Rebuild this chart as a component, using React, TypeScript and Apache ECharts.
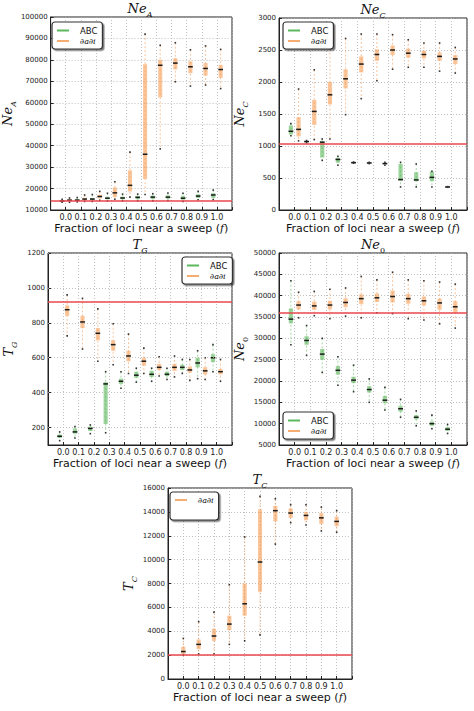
import React, { useRef, useEffect } from 'react'
import * as echarts from 'echarts'

const fractions = ['0.0', '0.1', '0.2', '0.3', '0.4', '0.5', '0.6', '0.7', '0.8', '0.9', '1.0']

// each box: [min, q1, median, q3, max]
const neA_ABC = [
  [13600, 13900, 14200, 14500, 15000],
  [13800, 14200, 14600, 15100, 15800],
  [14000, 14600, 15100, 15600, 17200],
  [14200, 15000, 15500, 16200, 17800],
  [14300, 15000, 15600, 16200, 17400],
  [14300, 15100, 15900, 16500, 17400],
  [14300, 15200, 16000, 16700, 17600],
  [14400, 15300, 16000, 16800, 17900],
  [14000, 14800, 15500, 16600, 17800],
  [14800, 15600, 16500, 17300, 18700],
  [14800, 15600, 17000, 17800, 19300],
]
const neA_dadi = [
  [13600, 14100, 14600, 15000, 15600],
  [14000, 14600, 15100, 15700, 17000],
  [14500, 15400, 16300, 17100, 18700],
  [15000, 16000, 18000, 20500, 23200],
  [16000, 18600, 21500, 28500, 37000],
  [17200, 24500, 36000, 78000, 92000],
  [38500, 62500, 77500, 80000, 86800],
  [69800, 75600, 78500, 80800, 88000],
  [67800, 73800, 76800, 79300, 84700],
  [68300, 72700, 76000, 78500, 86500],
  [66600, 71600, 75500, 77700, 84900],
]

const neC_ABC = [
  [1160, 1180, 1230, 1320, 1350],
  [1050, 1060, 1070, 1075, 1085],
  [775, 820, 1060, 1075, 1110],
  [700, 740, 790, 815, 840],
  [730, 735, 740, 745, 750],
  [725, 730, 735, 740, 745],
  [700, 715, 725, 735, 745],
  [360, 460, 475, 720, 745],
  [360, 450, 470, 590, 720],
  [360, 450, 510, 600, 605],
  [355, 358, 360, 362, 365],
]
const neC_dadi = [
  [1080, 1150, 1260, 1450, 1890],
  [1100, 1330, 1540, 1720, 2190],
  [1110, 1650, 1800, 2000, 2520],
  [1490, 1900, 2050, 2200, 2680],
  [1740, 2150, 2280, 2400, 2750],
  [2020, 2330, 2430, 2510, 2750],
  [2200, 2420, 2500, 2570, 2740],
  [2230, 2380, 2450, 2520, 2660],
  [2230, 2370, 2430, 2490, 2610],
  [2170, 2330, 2400, 2460, 2610],
  [2140, 2280, 2360, 2420, 2540],
]

const tG_ABC = [
  [125, 140, 150, 160, 175],
  [140, 165, 175, 195, 205],
  [165, 180, 195, 205, 215],
  [170, 220, 450, 460, 520],
  [425, 450, 465, 480, 520],
  [460, 485, 500, 520, 540],
  [465, 490, 505, 525, 540],
  [475, 495, 505, 520, 540],
  [510, 530, 545, 560, 590],
  [480, 545, 570, 600, 640],
  [520, 575, 600, 620, 675],
]
const tG_dadi = [
  [725, 840, 875, 900, 960],
  [650, 770, 805, 840, 940],
  [580, 700, 740, 770, 880],
  [560, 640, 675, 700, 795],
  [510, 580, 610, 640, 735],
  [510, 555, 580, 600, 655],
  [495, 530, 545, 565, 605],
  [490, 525, 545, 565, 610],
  [470, 515, 530, 550, 590],
  [475, 505, 525, 545, 600],
  [465, 505, 520, 535, 590],
]

const ne0_ABC = [
  [28500, 33500, 34500, 37000, 43500],
  [26000, 28500, 29500, 30500, 33000],
  [22000, 25000, 26300, 27500, 30000],
  [19000, 21500, 22500, 23500, 25700],
  [17500, 19500, 20200, 21000, 23700],
  [15000, 17300, 18000, 18800, 20500],
  [13200, 14800, 15500, 16500, 18500],
  [11500, 12800, 13500, 14200, 15700],
  [9500, 11000, 11500, 12000, 13000],
  [8800, 9500, 10000, 10500, 12000],
  [7700, 8300, 8700, 9200, 9800],
]
const ne0_dadi = [
  [34800, 36800, 37800, 38700, 40800],
  [35300, 36700, 37600, 38600, 41000],
  [34600, 36800, 37800, 38800, 41500],
  [35200, 37300, 38400, 39400, 41800],
  [34800, 38000, 39300, 40300, 44500],
  [36000, 38500, 39500, 40500, 43700],
  [35800, 38400, 39800, 41200, 45500],
  [34600, 38100, 39300, 40400, 43700],
  [34300, 37700, 38800, 39800, 43500],
  [33400, 36700, 38300, 39300, 43200],
  [32400, 36000, 37400, 38700, 42700],
]

const tC_dadi = [
  [2000, 2100, 2300, 2700, 3400],
  [2100, 2500, 2900, 3300, 4800],
  [2100, 3200, 3600, 4200, 5600],
  [2900, 4100, 4600, 5300, 7900],
  [3200, 5300, 6300, 8000, 11900],
  [3700, 7300, 9800, 14200, 15300],
  [11300, 13200, 14100, 14500, 15100],
  [13100, 13500, 13900, 14300, 14600],
  [12900, 13300, 13700, 14000, 14600],
  [12400, 13000, 13500, 13900, 14400],
  [12300, 12800, 13200, 13600, 14100],
]

// true simulated values (red lines)
const trueValues = [14500, 1030, 920, 36000, 2000]

// T_G axis starts at 100 but is labelled every 200
const tG_ticks = [200, 400, 600, 800, 1000, 1200]

const xCats = ['', ...fractions, '']

const panels = [
  { title: ['Ne', 'A'], abc: neA_ABC, dadi: neA_dadi, yMin: 10000, yMax: 100000, yStep: 10000, ticks: null,
    grid: { left: 48, top: 17, width: 184, height: 193 }, legend: { left: 52, top: 22 } },
  { title: ['Ne', 'C'], abc: neC_ABC, dadi: neC_dadi, yMin: 0, yMax: 3000, yStep: 500, ticks: null,
    grid: { left: 279, top: 18, width: 188, height: 192 }, legend: { left: 283, top: 22 } },
  { title: ['T', 'G'], abc: tG_ABC, dadi: tG_dadi, yMin: 100, yMax: 1200, yStep: 100, ticks: tG_ticks,
    grid: { left: 48, top: 253, width: 184, height: 192 }, legend: { left: 182, top: 257 } },
  { title: ['Ne', '0'], abc: ne0_ABC, dadi: ne0_dadi, yMin: 5000, yMax: 50000, yStep: 5000, ticks: null,
    grid: { left: 279, top: 253, width: 188, height: 192 }, legend: { left: 283, top: 412 } },
  { title: ['T', 'C'], abc: null, dadi: tC_dadi, yMin: 0, yMax: 16000, yStep: 2000, ticks: null,
    grid: { left: 168, top: 488, width: 184, height: 191 }, legend: { left: 170, top: 492 } },
]

const serif = 'DejaVu Serif'
const sans = 'DejaVu Sans'
const GRID_LINE = { color: '#b0b0b0', type: [1, 2], width: 0.8 }

const mathRich = {
  m: { fontFamily: serif, fontStyle: 'italic', fontWeight: 'normal', fontSize: 13, color: '#111', verticalAlign: 'top' },
  s: { fontFamily: serif, fontStyle: 'italic', fontWeight: 'normal', fontSize: 8, color: '#111', padding: [8, 0, 0, 0], verticalAlign: 'bottom' },
  d: { fontFamily: serif, fontWeight: 'normal', fontSize: 8, color: '#111', padding: [8, 0, 0, 0], verticalAlign: 'bottom' },
}
const mathText = (t: string[]) => `{m|${t[0]}}{${/\d/.test(t[1]) ? 'd' : 's'}|${t[1]}}`

const ABC_COLOR = '#5cb85c'
const DADI_COLOR = '#f6ad72'

const makeRender = (offset: number, fill: string, whisker: string) => (params: any, api: any) => {
  const i = api.value(0)
  const band = api.size([1, 0])[0]
  const cx = api.coord([i, api.value(3)])[0] + offset * band
  const y = (k: number) => api.coord([i, api.value(k)])[1]
  const w = band * 0.27
  const yLo = y(1), yQ1 = y(2), yMed = y(3), yQ3 = y(4), yHi = y(5)
  return {
    type: 'group',
    children: [
      { type: 'line', shape: { x1: cx, y1: yHi, x2: cx, y2: yLo },
        style: { stroke: whisker, lineWidth: 1, lineDash: [2, 2] } },
      { type: 'rect', shape: { x: cx - w / 2, y: yQ3, width: w, height: Math.max(yQ1 - yQ3, 1) },
        style: { fill } },
      { type: 'rect', shape: { x: cx - w / 2 - 0.3, y: yMed - 0.75, width: w + 0.6, height: 1.5 },
        style: { fill: '#1a1a1a' } },
      { type: 'rect', shape: { x: cx - 0.8, y: yHi - 0.8, width: 1.6, height: 1.6 }, style: { fill: '#333' } },
      { type: 'rect', shape: { x: cx - 0.8, y: yLo - 0.8, width: 1.6, height: 1.6 }, style: { fill: '#333' } },
    ],
  }
}

const toData = (boxes: number[][]) => boxes.map((b, i) => [i + 1, ...b])

const App: React.FC = () => {
  const chartRef = useRef<HTMLDivElement>(null)

  useEffect(() => {
    if (!chartRef.current) return
    const chart = echarts.init(chartRef.current, undefined, { renderer: 'svg' })

    const series: any[] = []
    panels.forEach((p, k) => {
      const two = !!p.abc
      if (p.abc) {
        series.push({
          name: 'ABC',
          type: 'custom',
          xAxisIndex: k,
          yAxisIndex: k,
          itemStyle: { color: ABC_COLOR },
          renderItem: makeRender(-0.24, 'rgba(92,184,92,0.6)', 'rgba(92,184,92,0.55)'),
          encode: { x: 0, y: [1, 2, 3, 4, 5] },
          data: toData(p.abc),
          z: 3,
        })
      }
      const lines: any[] = [
        { yAxis: trueValues[k], lineStyle: { color: '#e8474c', width: 1.5, type: 'solid' } },
      ]
      // dotted horizontal grid lines for the axis whose ticks don't start at min
      if (p.ticks) {
        p.ticks.forEach((v) => lines.unshift({ yAxis: v, lineStyle: GRID_LINE }))
      }
      series.push({
        name: '∂a∂i',
        type: 'custom',
        xAxisIndex: k,
        yAxisIndex: k,
        itemStyle: { color: DADI_COLOR },
        renderItem: makeRender(two ? 0.25 : 0, 'rgba(247,160,90,0.6)', 'rgba(240,150,80,0.55)'),
        encode: { x: 0, y: [1, 2, 3, 4, 5] },
        data: toData(p.dadi),
        z: 3,
        markLine: {
          silent: true,
          symbol: 'none',
          label: { show: false },
          data: lines,
          z: 4,
        },
      })
    })

    const option = {
      animation: false,
      backgroundColor: '#fff',
      title: panels.map((p) => ({
        text: mathText(p.title),
        left: p.grid.left + p.grid.width / 2,
        top: p.grid.top - 15,
        textAlign: 'center',
        padding: 0,
        textStyle: { fontWeight: 'normal', rich: mathRich },
      })),
      legend: panels.map((p) => ({
        orient: 'vertical',
        left: p.legend.left,
        top: p.legend.top,
        data: p.abc ? ['ABC', '∂a∂i'] : ['∂a∂i'],
        icon: 'rect',
        itemWidth: 12,
        itemHeight: 2,
        itemGap: 2,
        padding: p.abc ? [4, 5, 4, 5] : [4, 5, 16, 5],
        borderColor: '#333',
        borderWidth: 1.2,
        borderRadius: 3,
        backgroundColor: '#fff',
        shadowColor: 'rgba(0,0,0,0.5)',
        shadowBlur: 1,
        shadowOffsetX: 1.5,
        shadowOffsetY: 1.5,
        selectedMode: false,
        formatter: (name: string) => (name === 'ABC' ? `{s|${name}}` : `{i|${name}}`),
        textStyle: {
          rich: {
            s: { fontFamily: sans, fontSize: 8.5, color: '#111', lineHeight: 10, padding: [0, 0, 0, 6] },
            i: { fontFamily: serif, fontStyle: 'italic', fontSize: 8, color: '#111', lineHeight: 10, padding: [0, 0, 0, 6] },
          },
        },
      })),
      grid: panels.map((p) => ({
        ...p.grid,
        show: true,
        borderColor: '#222',
        borderWidth: 1,
        backgroundColor: '#fff',
      })),
      xAxis: panels.map((p, k) => ({
        type: 'category',
        gridIndex: k,
        data: xCats,
        boundaryGap: false,
        axisLine: { show: true, lineStyle: { color: '#222' } },
        axisTick: { show: true, inside: true, length: 3, interval: 0, lineStyle: { color: '#222' } },
        axisLabel: { interval: 0, fontFamily: sans, fontSize: 8, color: '#222', margin: 3 },
        splitLine: { show: true, interval: 0, lineStyle: GRID_LINE },
        name: '{n|Fraction of loci near a sweep (}{f|f}{n|)}',
        nameLocation: 'middle',
        nameGap: 13,
        nameTextStyle: {
          rich: {
            n: { fontFamily: sans, fontSize: 11, color: '#111' },
            f: { fontFamily: serif, fontStyle: 'italic', fontSize: 11, color: '#111' },
          },
        },
      })),
      yAxis: panels.map((p, k) => ({
        type: 'value',
        gridIndex: k,
        min: p.yMin,
        max: p.yMax,
        interval: p.yStep,
        axisLine: { show: true, lineStyle: { color: '#222' } },
        axisTick: p.ticks
          ? { show: true, inside: true, length: 3, customValues: p.ticks, lineStyle: { color: '#222' } }
          : { show: true, inside: true, length: 3, lineStyle: { color: '#222' } },
        axisLabel: {
          fontFamily: sans,
          fontSize: 7,
          color: '#222',
          margin: 3,
          formatter: (v: number) => (p.ticks && !p.ticks.includes(v) ? '' : String(v)),
        },
        splitLine: { show: !p.ticks, lineStyle: GRID_LINE },
        name: mathText(p.title),
        nameLocation: 'middle',
        nameRotate: 90,
        nameGap: 30,
        nameTextStyle: { rich: mathRich },
      })),
      series,
    }

    chart.setOption(option as any)

    return () => {
      chart.dispose()
    }
  }, [])

  return (
    <div
      ref={chartRef}
      style={{ position: 'absolute', left: 0, top: 0, width: '474px', height: '711px', background: '#fff' }}
    />
  )
}

export default App
